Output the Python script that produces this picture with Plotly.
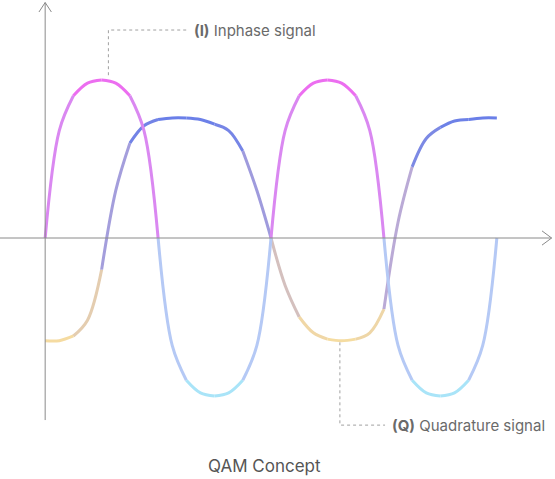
import plotly.graph_objects as go
from plotly.colors import sample_colorscale

# sample positions (quarter-period = 1 unit) and values
x_vals = [i * 0.25 for i in range(33)]
inphase = [0, .68, .90, .98, 1, .98, .90, .68, 0, -.68, -.90, -.98, -1, -.98, -.90, -.68,
           0, .68, .90, .98, 1, .98, .90, .68, 0, -.68, -.90, -.98, -1, -.98, -.90, -.68, 0]
quadrature = [-.65, -.65, -.62, -.52, -.2, .3, .6, .71, .75, .76, .76, .75, .72, .68, .55, .3,
              0, -.3, -.5, -.6, -.64, -.65, -.64, -.6, -.45, .1, .45, .63, .7, .74, .75, .76, .76]

i_scale = [[0, '#a8e6f8'], [0.5, '#c4a8f2'], [1, '#ee6cf0']]
q_scale = [[0, '#f6dca0'], [0.5, '#b8a8d8'], [1, '#6a7fe8']]

fig = go.Figure()


def add_gradient(xs, ys, scale, lo, hi):
    for k in range(0, len(xs) - 1, 2):
        part = ys[k:k + 3]
        mid = (sum(part) / len(part) - lo) / (hi - lo)
        col = sample_colorscale(scale, [min(max(mid, 0), 1)])[0]
        fig.add_trace(go.Scatter(x=xs[k:k + 3], y=part, mode='lines',
                                 line=dict(color=col, width=3, shape='spline', smoothing=1),
                                 hoverinfo='skip', showlegend=False))


add_gradient(x_vals, quadrature, q_scale, -0.65, 0.76)
add_gradient(x_vals, inphase, i_scale, -1, 1)

axis_col = '#8a8a8a'
# axes with arrow heads
fig.add_shape(type='line', x0=-0.8, x1=8.97, y0=0, y1=0, line=dict(color=axis_col, width=1))
fig.add_shape(type='line', x0=0, x1=0, y0=-1.152, y1=1.49, line=dict(color=axis_col, width=1))
fig.add_shape(type='path', path='M 8.80 0.045 L 8.97 0 L 8.80 -0.045',
              line=dict(color=axis_col, width=1))
fig.add_shape(type='path', path='M -0.11 1.43 L 0 1.49 L 0.11 1.43',
              line=dict(color=axis_col, width=1))

# leader lines
dash = dict(color='#a0a0a0', width=1, dash='dot')
fig.add_shape(type='path', path='M 1.12 1.03 L 1.12 1.316 L 2.53 1.316', line=dash)
fig.add_shape(type='path', path='M 5.22 -0.66 L 5.22 -1.184 L 6.02 -1.184', line=dash)

fig.add_annotation(x=2.6, y=1.316, text='<b>(I)</b> Inphase signal', showarrow=False,
                   xanchor='left', font=dict(size=15, color='#6a6a6a'))
fig.add_annotation(x=6.1, y=-1.184, text='<b>(Q)</b> Quadrature signal', showarrow=False,
                   xanchor='left', font=dict(size=15, color='#6a6a6a'))
fig.add_annotation(x=3.88, y=-1.44, text='QAM Concept', showarrow=False,
                   font=dict(size=17, color='#555555'))

fig.update_layout(
    width=555, height=479, margin=dict(l=0, r=0, t=0, b=0),
    plot_bgcolor='white', paper_bgcolor='white',
    font=dict(family='Inter, Roboto, sans-serif'),
    xaxis=dict(range=[-0.8, 9.03], visible=False, fixedrange=True),
    yaxis=dict(range=[-1.525, 1.506], visible=False, fixedrange=True),
)

fig.write_html('out.html', config={'displayModeBar': False},
               post_script="document.body.style.margin='0';document.body.style.overflow='hidden';")
